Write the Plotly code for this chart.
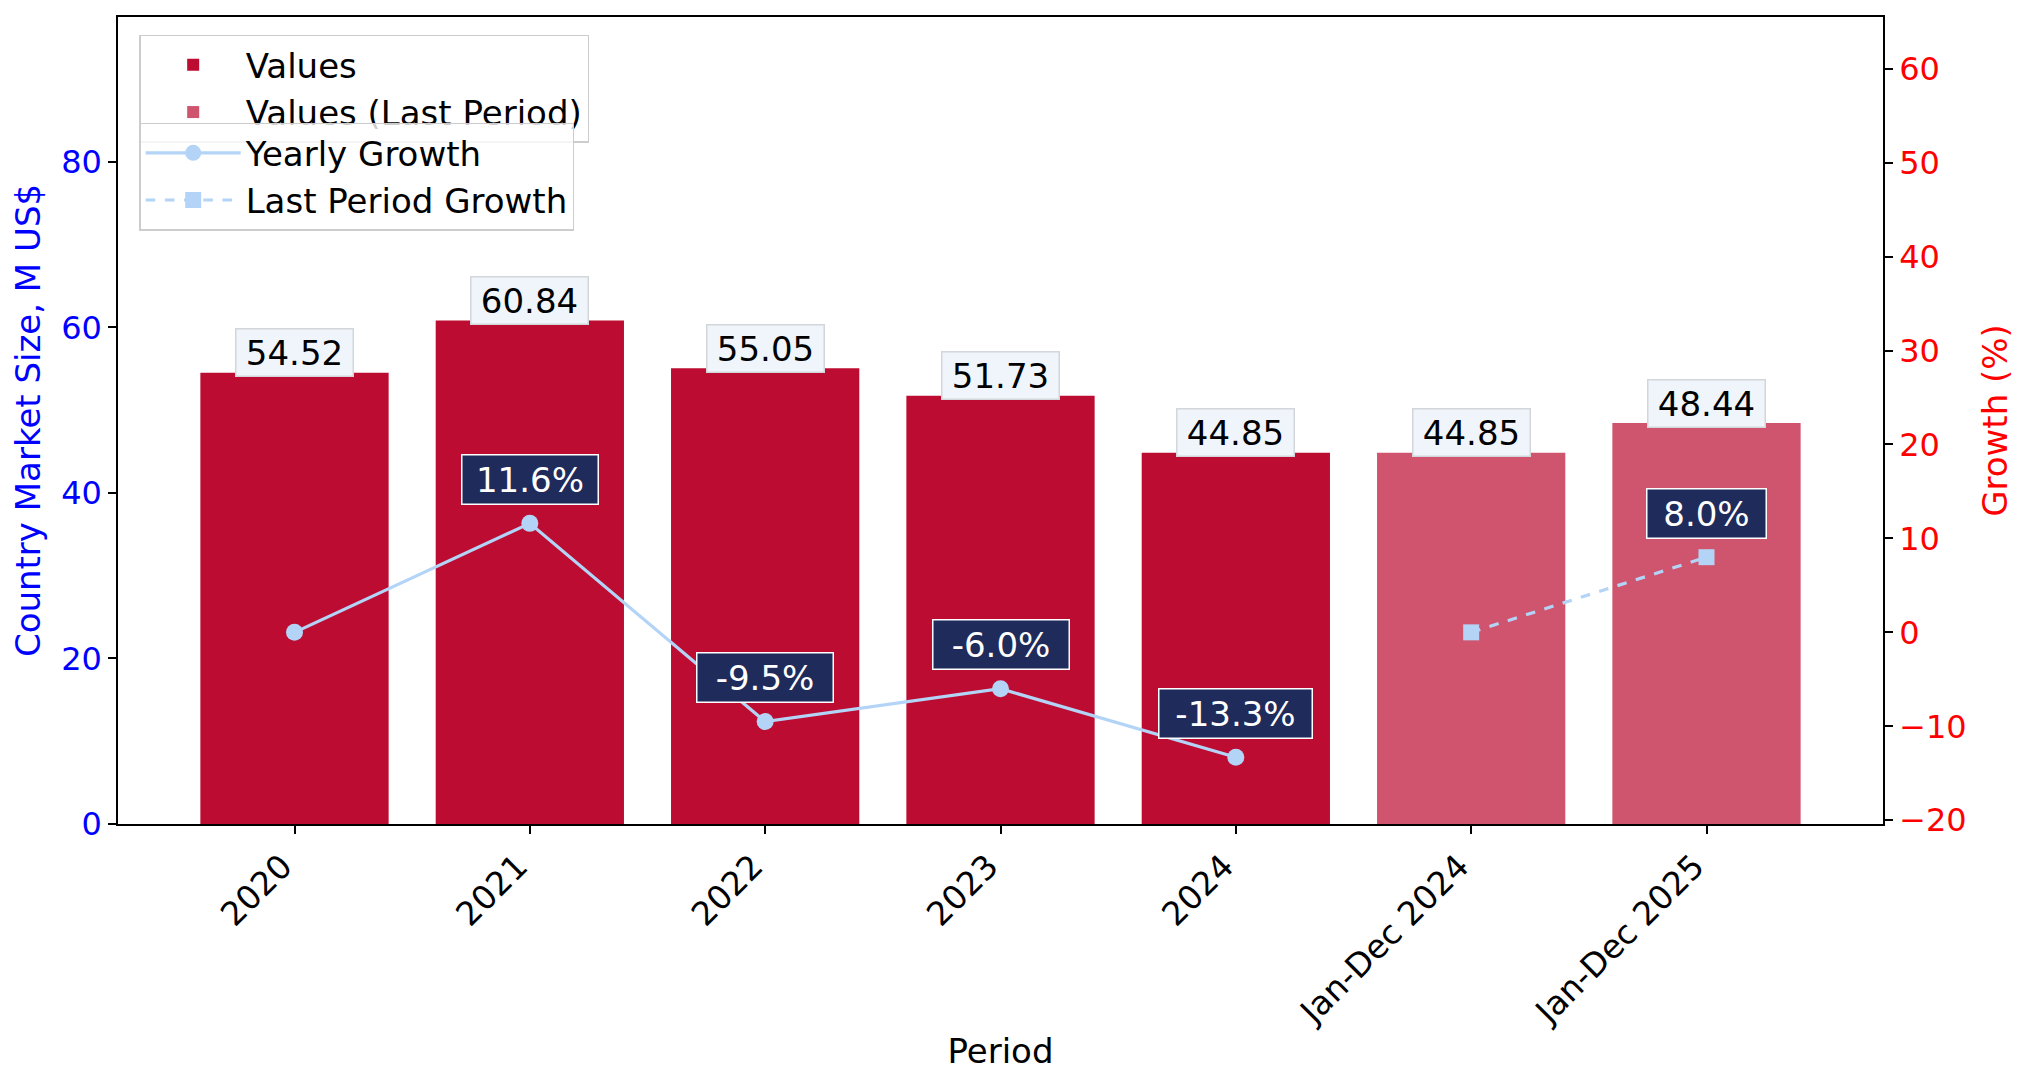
import plotly.graph_objects as go

periods = ["2020", "2021", "2022", "2023", "2024", "Jan-Dec 2024", "Jan-Dec 2025"]
year_periods = ["2020", "2021", "2022", "2023", "2024"]
last_periods = ["Jan-Dec 2024", "Jan-Dec 2025"]
year_values = [54.52, 60.84, 55.05, 51.73, 44.85]
last_values = [44.85, 48.44]
year_growth = [0.0, 11.6, -9.5, -6.0, -13.3]
last_growth = [0.0, 8.0]

BAR = "#BC0C31"
LINE = "#B3D4F7"
NAVY = "#1F2B5B"
FONT = "DejaVu Sans"
FS = 34
TFS = 32

fig = go.Figure()
fig.add_trace(go.Bar(x=year_periods, y=year_values, name="Values", marker=dict(color=BAR, line=dict(width=0)),
                     width=0.8, legend="legend"))
fig.add_trace(go.Bar(x=last_periods, y=last_values, name="Values (Last Period)",
                     marker=dict(color=BAR, line=dict(width=0)), opacity=0.7, width=0.8, legend="legend"))
fig.add_trace(go.Scatter(x=year_periods, y=year_growth, name="Yearly Growth", yaxis="y2", mode="lines+markers",
                         line=dict(color=LINE, width=3.2), marker=dict(symbol="circle", size=17, color=LINE),
                         legend="legend2"))
fig.add_trace(go.Scatter(x=last_periods, y=last_growth, name="Last Period Growth", yaxis="y2", mode="lines+markers",
                         line=dict(color=LINE, width=3.2, dash="dash"), marker=dict(symbol="square", size=16, color=LINE),
                         legend="legend2"))

idx = {p: i for i, p in enumerate(periods)}
annotations = []
for p, v in list(zip(year_periods, year_values)) + list(zip(last_periods, last_values)):
    annotations.append(dict(x=idx[p], y=v, xref="x", yref="y", text=f"{v:.2f}", showarrow=False,
                            yanchor="middle", yshift=20, width=110, font=dict(family=FONT, size=FS, color="black"),
                            bgcolor="#EFF5FA", bordercolor="#D3D6DA", borderwidth=1.5, borderpad=3))
for p, g in list(zip(year_periods, year_growth)) + list(zip(last_periods, last_growth)):
    if g == 0:
        continue
    t = f"{g:.1f}%"
    annotations.append(dict(x=idx[p], y=g, xref="x", yref="y2", text=t, showarrow=False,
                            yanchor="middle", yshift=44, width=17 * len(t) + 42,
                            font=dict(family=FONT, size=FS, color="white"),
                            bgcolor=NAVY, bordercolor="white", borderwidth=1.5, borderpad=4))

fig.update_layout(
    width=2032, height=1087,
    margin=dict(l=118, r=149, t=17, b=263),
    paper_bgcolor="white", plot_bgcolor="white",
    barmode="overlay",
    font=dict(family=FONT, size=FS, color="black"),
    annotations=annotations,
    xaxis=dict(categoryorder="array", categoryarray=periods, range=[-0.75, 6.75],
               tickangle=-45, ticks="outside", ticklen=8, tickwidth=1.5, tickcolor="black",
               ticklabelshift=-12,
               showline=True, linecolor="black", linewidth=1.5, mirror=True, showgrid=False,
               tickfont=dict(family=FONT, size=33, color="black"),
               title=dict(text="Period", font=dict(family=FONT, size=FS, color="black"), standoff=8)),
    yaxis=dict(range=[0, 97.5], tick0=0, dtick=20, ticks="outside", ticklen=8, tickwidth=1.5, tickcolor="black",
               showline=True, linecolor="black", linewidth=1.5, showgrid=False, zeroline=False,
               tickfont=dict(family=FONT, size=TFS, color="blue"),
               title=dict(text="Country Market Size, M US$", font=dict(family=FONT, size=FS, color="blue"), standoff=10)),
    yaxis2=dict(overlaying="y", side="right", range=[-20.4, 65.5], tick0=0, dtick=10,
                ticks="outside", ticklen=8, tickwidth=1.5, tickcolor="black",
                showline=True, linecolor="black", linewidth=1.5, showgrid=False, zeroline=False,
                tickfont=dict(family=FONT, size=TFS, color="red"),
                title=dict(text="Growth (%)", font=dict(family=FONT, size=FS, color="red"), standoff=18)),
    legend=dict(x=0.012, y=0.978, xanchor="left", yanchor="top", bgcolor="rgba(255,255,255,0.8)",
                itemwidth=95, bordercolor="#CCCCCC", borderwidth=1.5, font=dict(family=FONT, size=FS, color="black")),
    legend2=dict(x=0.012, y=0.869, xanchor="left", yanchor="top", bgcolor="rgba(255,255,255,0.8)",
                 itemwidth=95, bordercolor="#CCCCCC", borderwidth=1.5, font=dict(family=FONT, size=FS, color="black")),
)

fig.write_html("out.html")
